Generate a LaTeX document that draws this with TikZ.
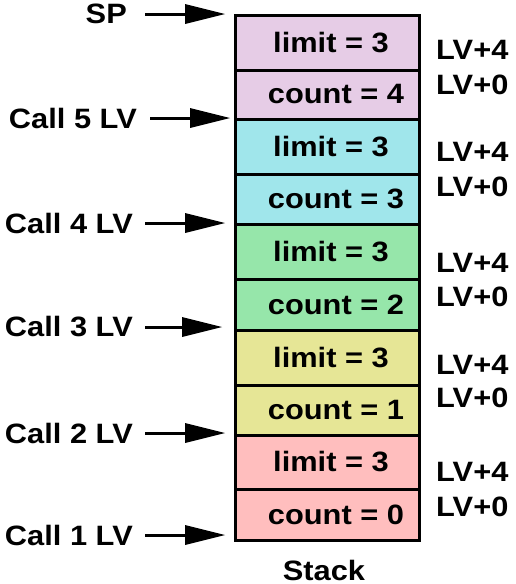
\documentclass[tikz,border=0pt]{standalone}
\usepackage{fontspec}
\newfontfamily\hb{Liberation Sans}[FakeStretch=1.1]
\usetikzlibrary{arrows.meta}
\definecolor{clav}{RGB}{230,204,230}
\definecolor{ccyan}{RGB}{160,230,235}
\definecolor{cgreen}{RGB}{150,230,170}
\definecolor{cyell}{RGB}{230,230,150}
\definecolor{cpink}{RGB}{255,190,190}
\tikzset{
  txt/.style={font=\hb\bfseries\fontsize{28}{30}\selectfont, inner sep=0pt},
  cell/.style={txt, draw, line width=3pt, minimum width=184pt},
  lbl/.style={txt, anchor=east},
  lvl/.style={txt, anchor=west},
  ptr/.style={line width=3pt, shorten <=12pt, -{Triangle[length=40pt,width=20pt,line width=0pt]}},
}
\begin{document}
\begin{tikzpicture}[x=1pt,y=-1pt]
\useasboundingbox (0,0) rectangle (515,584);
% stack cells
\node[cell, fill=clav,   minimum height=55pt] (c1)  at (327,42.5)  {\hspace*{8pt}limit = 3};
\node[cell, fill=clav,   minimum height=49pt] (c2)  at (327,94.5)  {\hspace*{18pt}count = 4};
\node[cell, fill=ccyan,  minimum height=55pt] (c3)  at (327,146.5) {\hspace*{8pt}limit = 3};
\node[cell, fill=ccyan,  minimum height=50pt] (c4)  at (327,199)   {\hspace*{18pt}count = 3};
\node[cell, fill=cgreen, minimum height=55pt] (c5)  at (327,251.5) {\hspace*{8pt}limit = 3};
\node[cell, fill=cgreen, minimum height=51pt] (c6)  at (327,304.5) {\hspace*{18pt}count = 2};
\node[cell, fill=cyell,  minimum height=55pt] (c7)  at (327,357.5) {\hspace*{8pt}limit = 3};
\node[cell, fill=cyell,  minimum height=50pt] (c8)  at (327,410)   {\hspace*{18pt}count = 1};
\node[cell, fill=cpink,  minimum height=54pt] (c9)  at (327,462)   {\hspace*{8pt}limit = 3};
\node[cell, fill=cpink,  minimum height=51pt] (c10) at (327,514.5) {\hspace*{18pt}count = 0};
% offsets
\node[lvl] (o5a) at (436,49.5) {LV+4};
\node[lvl] (o5b) at (436,85)   {LV+0};
\node[lvl] (o4a) at (436,152)  {LV+4};
\node[lvl] (o4b) at (436,187)  {LV+0};
\node[lvl] (o3a) at (436,263)  {LV+4};
\node[lvl] (o3b) at (436,297)  {LV+0};
\node[lvl] (o2a) at (436,365)  {LV+4};
\node[lvl] (o2b) at (436,398)  {LV+0};
\node[lvl] (o1a) at (436,472)  {LV+4};
\node[lvl] (o1b) at (436,507)  {LV+0};
% pointer labels
\node[lbl] (sp) at (127,14)  {SP};
\node[lbl] (l5) at (137,118) {Call 5 LV};
\node[lbl] (l4) at (133,223) {Call 4 LV};
\node[lbl] (l3) at (133,327) {Call 3 LV};
\node[lbl] (l2) at (133,433) {Call 2 LV};
\node[lbl] (l1) at (133,535) {Call 1 LV};
\coordinate (tsp) at (225,14);
\coordinate (t5) at (230,118);
\coordinate (t4) at (225,223);
\coordinate (t3) at (222,327);
\coordinate (t2) at (225,433);
\coordinate (t1) at (225,535);
\draw[ptr, shorten <=18pt] (sp.east) -- (tsp);
\draw[ptr, shorten <=13pt] (l5.east) -- (t5);
\draw[ptr] (l4.east) -- (t4);
\draw[ptr] (l3.east) -- (t3);
\draw[ptr] (l2.east) -- (t2);
\draw[ptr] (l1.east) -- (t1);
\node[txt] (stack) at (324,570) {Stack};
\end{tikzpicture}
\end{document}
